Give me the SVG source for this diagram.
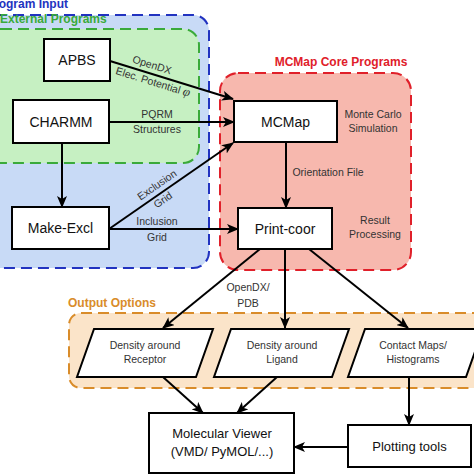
<svg xmlns="http://www.w3.org/2000/svg" width="474" height="474" viewBox="0 0 474 474">
<style>
.region{stroke-width:2;stroke-dasharray:11 6}
.node rect,.node polygon{fill:#fff;stroke:#000;stroke-width:2}
.nl{font-family:"Liberation Sans",Arial,sans-serif;font-size:14px;fill:#111;text-anchor:middle}
.nl13{font-family:"Liberation Sans",Arial,sans-serif;font-size:13px;fill:#111;text-anchor:middle}
.sl{font-family:"Liberation Sans",Arial,sans-serif;font-size:10.5px;fill:#333;text-anchor:middle}
.title{font-family:"Liberation Sans",Arial,sans-serif;font-size:12px;font-weight:bold}
.conn line{stroke:#000;stroke-width:2;marker-end:url(#ah)}
</style>
<defs>
<marker id="ah" viewBox="0 0 12 10" refX="11" refY="5" markerWidth="12" markerHeight="10" markerUnits="userSpaceOnUse" orient="auto"><path d="M0,0 L12,5 L0,10 L3,5 z" fill="#000"/></marker>
</defs>
<rect width="474" height="474" fill="#fff"/>
<g id="region-input">
<rect class="region" x="-20" y="15" width="229" height="253" rx="16" fill="#c8daf6" stroke="#2233c0"/>
<text class="title" x="-14" y="8" fill="#2233c0">Program Input</text>
</g>
<g id="region-external">
<rect class="region" x="-15" y="29" width="214" height="134" rx="16" fill="#c6f0c2" stroke="#3aaa3a"/>
<text class="title" x="0" y="23" fill="#3aaa3a">External Programs</text>
</g>
<g id="region-core">
<rect class="region" x="220" y="73" width="191" height="197" rx="18" fill="#f7b8ae" stroke="#e0202a"/>
<text class="title" x="341" y="66" fill="#e0202a" text-anchor="middle">MCMap Core Programs</text>
</g>
<g id="region-output">
<rect class="region" x="69" y="313" width="420" height="75" rx="12" fill="#fbe4c9" stroke="#d98c2a"/>
<text class="title" x="68" y="307" fill="#d98c2a">Output Options</text>
</g>
<g id="APBS" class="node"><rect x="44" y="39" width="66" height="42"/><text class="nl" x="77" y="65">APBS</text></g>
<g id="CHARMM" class="node"><rect x="13" y="100" width="96" height="43"/><text class="nl" x="61" y="127">CHARMM</text></g>
<g id="MakeExcl" class="node"><rect x="12" y="207" width="97" height="42"/><text class="nl" x="60.5" y="233">Make-Excl</text></g>
<g id="MCMap" class="node"><rect x="234" y="101" width="103" height="41"/><text class="nl" x="285.5" y="126.5">MCMap</text>
<text class="sl" x="373" y="118">Monte Carlo</text><text class="sl" x="373" y="132">Simulation</text></g>
<g id="Printcoor" class="node"><rect x="238" y="208" width="94" height="41"/><text class="nl" x="285" y="233.5">Print-coor</text>
<text class="sl" x="375" y="224">Result</text><text class="sl" x="375" y="238">Processing</text></g>
<g id="DensityReceptor" class="node"><polygon points="94,329 213,329 196,377 77,377"/><text class="sl" x="145" y="349">Density around</text><text class="sl" x="145" y="363">Receptor</text></g>
<g id="DensityLigand" class="node"><polygon points="231,329 349,329 332,377 214,377"/><text class="sl" x="282" y="349">Density around</text><text class="sl" x="282" y="363">Ligand</text></g>
<g id="ContactMaps" class="node"><polygon points="365,329 483,329 466,377 348,377"/><text class="sl" x="413" y="349">Contact Maps/</text><text class="sl" x="413" y="363">Histograms</text></g>
<g id="MolecularViewer" class="node"><rect x="149" y="413" width="145" height="60"/><text class="nl13" x="222" y="438">Molecular Viewer</text><text class="nl13" x="222" y="456">(VMD/ PyMOL/...)</text></g>
<g id="PlottingTools" class="node"><rect x="348" y="425" width="123" height="42"/><text class="nl13" x="409.5" y="450.5">Plotting tools</text></g>
<g id="connectors" class="conn">
<line x1="110" y1="61" x2="233" y2="99"/>
<line x1="109" y1="122" x2="234" y2="122"/>
<line x1="109" y1="229" x2="233" y2="143"/>
<line x1="109" y1="229" x2="238" y2="229"/>
<line x1="62" y1="143" x2="62" y2="207"/>
<line x1="286" y1="142" x2="286" y2="208"/>
<line x1="260" y1="249" x2="163" y2="328"/>
<line x1="285" y1="249" x2="285" y2="328"/>
<line x1="309" y1="249" x2="408" y2="328"/>
<line x1="163" y1="377" x2="203" y2="413"/>
<line x1="277" y1="377" x2="237" y2="413"/>
<line x1="409" y1="377" x2="409" y2="425"/>
<line x1="348" y1="447" x2="294" y2="447"/>
</g>
<g id="connector-labels">
<text class="sl" transform="rotate(17.3 152 65)" x="152" y="68.5">OpenDX</text>
<text class="sl" transform="rotate(17.3 153 82)" x="153" y="85.5">Elec. Potential <tspan font-family="'Liberation Serif',serif" font-style="italic" font-size="13px">φ</tspan></text>
<text class="sl" x="157" y="118">PQRM</text>
<text class="sl" x="157" y="133">Structures</text>
<text class="sl" transform="rotate(-34.6 157 185)" x="157" y="188.5">Exclusion</text>
<text class="sl" transform="rotate(-34.6 163 200)" x="163" y="203.5">Grid</text>
<text class="sl" x="157" y="225">Inclusion</text>
<text class="sl" x="157" y="241">Grid</text>
<text class="sl" x="328" y="176">Orientation File</text>
<text class="sl" x="248" y="291">OpenDX/</text>
<text class="sl" x="248" y="307">PDB</text>
</g>
</svg>
